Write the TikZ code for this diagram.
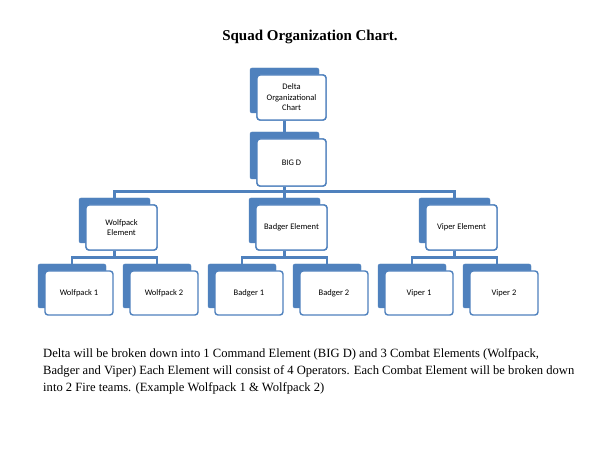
\documentclass[tikz,border=0pt]{standalone}
\usepackage{fontspec}
\setmainfont{Liberation Serif}
\newfontfamily\boxfont{Carlito}
\definecolor{bl}{RGB}{79,129,189}
\tikzset{
  back/.style={fill=bl,draw=bl,rounded corners=2pt,minimum width=#1pt,inner sep=0pt},
  front/.style={fill=white,draw=bl,line width=1.4pt,rounded corners=3pt,inner sep=1pt,align=center,font=\boxfont\fontsize{8.5}{10.5}\selectfont},
  conn/.style={draw=bl,line width=2.4pt}
}
\newcommand{\cbox}[6]{%
  \node[back=#4,minimum height=#5pt] (#1) at (#2-7,#3-7) {};
  \node[front,minimum width=#4pt,minimum height=#5pt] (#1-f) at (#2,#3) {#6};
}
\begin{document}
\begin{tikzpicture}[x=1pt,y=-1pt]
\useasboundingbox (0,0) rectangle (600,470);
\fill[white] (0,0) rectangle (600,470);
\node[font=\bfseries\fontsize{15}{17}\selectfont] (title) at (310,37) {Squad Organization Chart.};
\cbox{delta}{291.5}{97.5}{69}{45}{Delta\\Organizational\\Chart}
\cbox{bigd}{291.5}{162.5}{69}{47}{BIG D}
\cbox{wolf}{121.5}{227.5}{71}{45}{Wolfpack\\Element}
\cbox{badg}{291.5}{227.5}{71}{45}{Badger Element}
\cbox{vip}{461.5}{227.5}{71}{45}{Viper Element}
\cbox{w1}{79}{293}{68}{44}{Wolfpack 1}
\cbox{w2}{164}{293}{68}{44}{Wolfpack 2}
\cbox{b1}{249}{293}{68}{44}{Badger 1}
\cbox{b2}{334}{293}{68}{44}{Badger 2}
\cbox{v1}{419}{293}{68}{44}{Viper 1}
\cbox{v2}{504}{293}{68}{44}{Viper 2}
\draw[conn] (delta-f.south -| delta.south) -- (bigd.north);
\draw[conn] (bigd-f.south -| bigd.south) -- ++(0,5) -| (wolf.north);
\draw[conn] (bigd-f.south -| bigd.south) -- ++(0,5) -| (vip.north);
\draw[conn] (bigd-f.south -| bigd.south) -- (badg.north);
\foreach \e/\a/\b in {wolf/w1/w2, badg/b1/b2, vip/v1/v2}{
  \draw[conn] (\e-f.south -| \e.south) -- ++(0,7) -| (\a.north);
  \draw[conn] (\e-f.south -| \e.south) -- ++(0,7) -| (\b.north);
}
\node[front,minimum width=69pt,minimum height=45pt] at (delta-f) {Delta\\Organizational\\Chart};
\node[front,minimum width=69pt,minimum height=47pt] at (bigd-f) {BIG D};
\node[front,minimum width=71pt,minimum height=45pt] at (wolf-f) {Wolfpack\\Element};
\node[front,minimum width=71pt,minimum height=45pt] at (badg-f) {Badger Element};
\node[front,minimum width=71pt,minimum height=45pt] at (vip-f) {Viper Element};
\node[anchor=north west,align=left,inner sep=0pt,font=\fontsize{12.6}{17}\selectfont] (para) at (43,348)
{Delta will be broken down into 1 Command Element (BIG D) and 3 Combat Elements (Wolfpack,\\
Badger and Viper) Each Element will consist of 4 Operators. Each Combat Element will be broken down\\
into 2 Fire teams. (Example Wolfpack 1 \& Wolfpack 2)};
\end{tikzpicture}
\end{document}
